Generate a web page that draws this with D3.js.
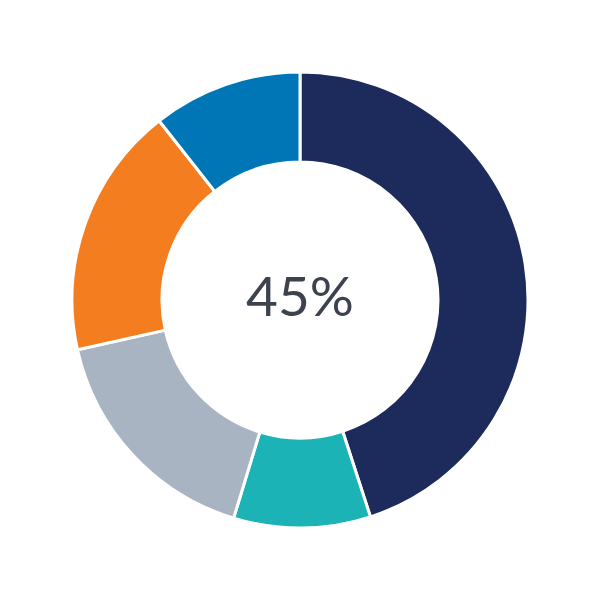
<!DOCTYPE html>
<html>
<head>
<meta charset="utf-8">
<script src="https://cdn.jsdelivr.net/npm/d3@7"></script>
<style>
  html, body { margin: 0; padding: 0; background: #fff; }
  svg { display: block; }
</style>
</head>
<body>
<svg id="chart" width="600" height="600"></svg>
<script>
// segments clockwise from 12 o'clock
var categories = ["A", "B", "C", "D", "E"];
var values = [45, 9.7, 16.8, 17.9, 10.6];
var colors = ["#1c2b5b", "#1cb3b6", "#a9b4c3", "#f47d20", "#0076b6"];
var centerLabel = "45%";

var width = 600, height = 600,
    outerR = 228, innerR = 138;

var svg = d3.select('#chart');
var g = svg.append('g').attr('transform', 'translate(' + width / 2 + ',' + height / 2 + ')');

var pie = d3.pie().sort(null).value(function(d) { return d; });
var arc = d3.arc().innerRadius(innerR).outerRadius(outerR);

var color = d3.scaleOrdinal().domain(categories).range(colors);

g.selectAll('path.slice')
  .data(pie(values))
  .enter().append('path')
  .attr('class', 'slice')
  .attr('d', arc)
  .attr('fill', function(d, i) { return color(categories[i]); })
  .attr('stroke', '#fff')
  .attr('stroke-width', 3);

g.append('text')
  .attr('text-anchor', 'middle')
  .attr('dy', '0.35em')
  .attr('y', -3)
  .style('font-family', 'Lato, "Open Sans", sans-serif')
  .style('font-size', '55px')
  .style('fill', '#3c434e')
  .text(centerLabel);
</script>
</body>
</html>
